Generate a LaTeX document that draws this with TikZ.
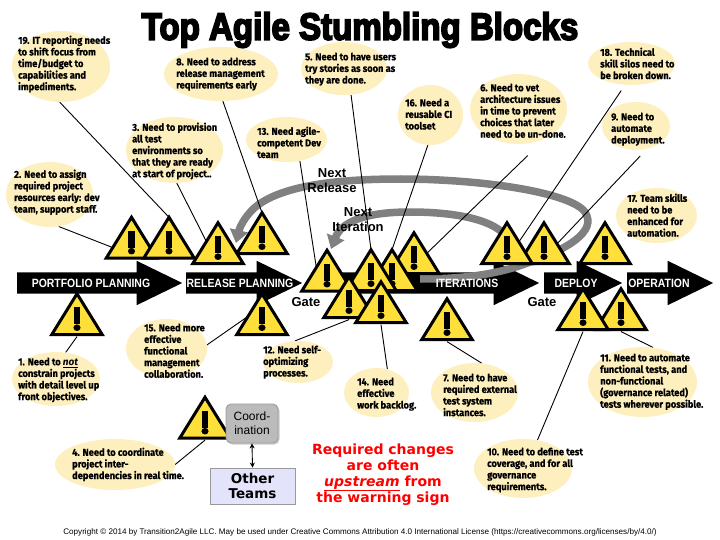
\documentclass[tikz,border=0pt]{standalone}
\usepackage{fontspec}
\setmainfont{Liberation Sans}
\newfontfamily\needfont[BoldFeatures={FakeStretch=.93,FakeBold=.6}]{Fira Sans}
\newfontfamily\titlefont[BoldFeatures={FakeBold=4.5,FakeStretch=.87}]{Liberation Sans}
\newfontfamily\stagefont[BoldFeatures={FakeStretch=.87}]{Liberation Sans}
\newfontfamily\wideboldfont{DejaVu Sans}
\usetikzlibrary{shapes.geometric,shapes.arrows,shadows,arrows.meta}
\pgfdeclarelayer{back}
\pgfdeclarelayer{mid}
\pgfsetlayers{back,mid,main}
\definecolor{bubblecream}{HTML}{FDEFBE}
\definecolor{warnyellow}{HTML}{FFE03A}
\definecolor{loopgrey}{HTML}{808080}
\definecolor{coordgrey}{HTML}{BBBBBB}
\definecolor{teamsblue}{HTML}{E3E3FB}
\tikzset{
  bubble/.style={ellipse, fill=bubblecream, inner sep=0pt},
  needtext/.style={anchor=north west, inner sep=0pt, align=left,
    font=\needfont\bfseries\fontsize{10}{11.6}\selectfont},
  warnsign/.style={regular polygon, regular polygon sides=3, draw=black, fill=warnyellow,
    line width=3pt, minimum size=54.5pt, inner sep=0pt, outer sep=0pt,
    transform shape, xscale=1.07,
    path picture={
      \fill[black] ([xshift=-3pt,yshift=7pt]path picture bounding box.center) rectangle
        ([xshift=3pt,yshift=-10pt]path picture bounding box.center);
      \fill[black] ([yshift=-13.5pt]path picture bounding box.center) circle (3.3pt);
    }},
  stagearrow/.style={single arrow, fill=black, anchor=tail, minimum width=44pt,
    single arrow head extend=11.5pt, single arrow tip angle=52, inner sep=0pt,
    text height=21pt, text depth=0pt, text width=1pt},
  stagetext/.style={inner sep=0pt, text=white, font=\stagefont\bfseries\fontsize{12}{12}\selectfont},
  looparrow/.style={draw=loopgrey, line width=7.5pt, -{Triangle[width=18pt,length=13pt]}},
  link/.style={draw=black, line width=.9pt},
  gatetext/.style={font=\bfseries\fontsize{13}{15}\selectfont, inner sep=0pt, align=center},
}
\begin{document}
\begin{tikzpicture}[x=1pt,y=-1pt]
\useasboundingbox (0,0) rectangle (720,540);
\node[inner sep=0pt, font=\titlefont\bfseries\fontsize{38}{38}\selectfont] (title) at (360,30) {Top Agile Stumbling Blocks};

% bubbles
\node[bubble, minimum width=98pt, minimum height=71pt] (n19) at (61,66.5) {};
\node[bubble, minimum width=114pt, minimum height=54pt] (n8) at (221,74) {};
\node[bubble, minimum width=97pt, minimum height=66pt] (n3) at (174.5,150) {};
\node[bubble, minimum width=87pt, minimum height=65pt] (n2) at (49.5,194.5) {};
\node[bubble, minimum width=81pt, minimum height=45pt] (n13) at (286.5,139.5) {};
\node[bubble, minimum width=86pt, minimum height=53pt] (n5) at (344,68.5) {};
\node[bubble, minimum width=65pt, minimum height=60pt] (n16) at (430.5,115) {};
\node[bubble, minimum width=97pt, minimum height=70pt] (n6) at (518.5,109) {};
\node[bubble, minimum width=87pt, minimum height=43pt] (n18) at (631.5,63.5) {};
\node[bubble, minimum width=68pt, minimum height=48pt] (n9) at (636,126) {};
\node[bubble, minimum width=81pt, minimum height=55pt] (n17) at (656.5,215.5) {};
\node[bubble, minimum width=88pt, minimum height=54pt] (n1) at (56,379) {};
\node[bubble, minimum width=81pt, minimum height=59pt] (n15) at (166.5,348.5) {};
\node[bubble, minimum width=70pt, minimum height=42pt] (n12) at (298,362) {};
\node[bubble, minimum width=65pt, minimum height=49pt] (n14) at (376.5,392.5) {};
\node[bubble, minimum width=87pt, minimum height=59pt] (n7) at (474.5,392.5) {};
\node[bubble, minimum width=109pt, minimum height=70pt] (n11) at (642.5,382) {};
\node[bubble, minimum width=98pt, minimum height=59pt] (n10) at (523,468.5) {};
\node[bubble, minimum width=120pt, minimum height=51pt] (n4) at (115,464.5) {};

% stages
\begin{pgfonlayer}{back}
\node[stagearrow, minimum height=165pt] (portfolio) at (17,283) {};
\node[stagearrow, minimum height=116pt] (release) at (186,283) {};
\node[stagearrow, minimum height=199pt] (iterations) at (340,283) {};
\node[stagearrow, minimum height=78pt] (deploy) at (544,283) {};
\node[stagearrow, minimum height=86pt] (operation) at (627,283) {};
\draw[looparrow] (420,279) .. controls (455,279) and (495,276) .. (530,262)
  .. controls (565,250) and (598,232) .. (585,212)
  .. controls (570,192) and (480,179) .. (400,179)
  .. controls (340,179) and (285,185) .. (258,205)
  .. controls (247,213) and (240,226) .. (236,243);
\draw[looparrow] (505,235) .. controls (490,218) and (450,212) .. (410,212)
  .. controls (375,212) and (343,218) .. (331,249);
\end{pgfonlayer}
\node[stagetext] (portfoliotext) at (91,283) {PORTFOLIO PLANNING};
\node[stagetext] (releasetext) at (240,283) {RELEASE PLANNING};
\node[stagetext] (iterationstext) at (467,283.5) {ITERATIONS};
\node[stagetext] (deploytext) at (576,283.5) {DEPLOY};
\node[stagetext] (operationtext) at (659,283.5) {OPERATION};

% warning signs
\node[warnsign] (w1) at (131.5,244.5) {};
\node[warnsign] (w2) at (169,244.5) {};
\node[warnsign] (w4) at (262,240) {};
\node[warnsign] (w3) at (218,250) {};
\node[warnsign] (w8) at (414,260) {};
\node[warnsign] (w7) at (392,277) {};
\node[warnsign] (w5) at (327,277.5) {};
\node[warnsign] (w6) at (371,277) {};
\node[warnsign] (w9) at (349,304) {};
\node[warnsign] (w10) at (381,309) {};
\node[warnsign] (w11) at (447,326) {};
\node[warnsign] (w13) at (544,250) {};
\node[warnsign] (w12) at (507,250) {};
\node[warnsign] (w14) at (605,250) {};
\node[warnsign] (w16) at (621,316) {};
\node[warnsign] (w15) at (583,316) {};
\node[warnsign] (w17) at (77,321) {};
\node[warnsign] (w18) at (262,321) {};
\node[warnsign] (w19) at (205,424.5) {};

% links
\begin{pgfonlayer}{mid}
\draw[link] (n19.268) -- (w2.corner 1);
\draw[link] (n8.274) -- (w4.corner 1);
\draw[link] (n3.274) -- (w3.142);
\draw[link] (n2.286) -- (w1.190);
\draw[link] (n13.302) -- (w5.135);
\draw[link] (n5.285) -- (w6.corner 1);
\draw[link] (n16.265) -- (w7.corner 1);
\draw[link] ([yshift=-12pt]n6.285) -- (w8.29);
\draw[link] ([yshift=-6pt]n18.244) -- (w12.36);
\draw[link] ([yshift=-6pt]n9.280) -- (w13.27);
\draw[link] (n1.70) -- ([yshift=-2pt]w17.south);
\draw[link] (n15.5) -- (w18.160);
\draw[link] (n12.98) -- ([yshift=-2pt]w9.south);
\draw[link] (n14.65) -- ([yshift=-2pt]w10.south);
\draw[link] (n7.76) -- ([yshift=-2pt]w11.south);
\draw[link] (n10.63) -- ([yshift=-2pt]w15.south);
\draw[link] (n11.73) -- ([yshift=-2pt]w16.south);
\draw[link] (n4.east) -- ([yshift=-2pt]w19.south);
\end{pgfonlayer}

% needs
\node[needtext] (t19) at (18,35.5) {19. IT reporting needs\\to shift focus from\\time/budget to\\capabilities and\\impediments.};
\node[needtext] (t8) at (176,57.5) {8. Need to address\\release management\\requirements early};
\node[needtext] (t3) at (132,122.5) {3. Need to provision\\all test\\environments so\\that they are ready\\at start of project..};
\node[needtext] (t2) at (14,169.5) {2. Need to assign\\required project\\resources early: dev\\team, support staff.};
\node[needtext] (t13) at (257,126.5) {13. Need agile-\\competent Dev\\team};
\node[needtext] (t5) at (305,52.5) {5. Need to have users\\try stories as soon as\\they are done.};
\node[needtext] (t16) at (405,98.5) {16. Need a\\reusable CI\\toolset};
\node[needtext] (t6) at (480,83.5) {6. Need to vet\\architecture issues\\in time to prevent\\choices that later\\need to be un-done.};
\node[needtext] (t18) at (600,47.5) {18. Technical\\skill silos need to\\be broken down.};
\node[needtext] (t9) at (611,112.5) {9. Need to\\automate\\deployment.};
\node[needtext] (t17) at (627,193.5) {17. Team skills\\need to be\\enhanced for\\automation.};
\node[needtext] (t1) at (18,357.5) {1. Need to \underline{\textit{not}}\\constrain projects\\with detail level up\\front objectives.};
\node[needtext] (t15) at (144,323.5) {15. Need more\\effective\\functional\\management\\collaboration.};
\node[needtext] (t12) at (263,345.5) {12. Need self-\\optimizing\\processes.};
\node[needtext] (t14) at (357,377.5) {14. Need\\effective\\work backlog.};
\node[needtext] (t7) at (443,373.5) {7. Need to have\\required external\\test system\\instances.};
\node[needtext] (t11) at (600,353.5) {11. Need to automate\\functional tests, and\\non-functional\\(governance related)\\tests wherever possible.};
\node[needtext] (t10) at (487,447.5) {10. Need to define test\\coverage, and for all\\governance\\requirements.};
\node[needtext] (t4) at (72,447.5) {4. Need to coordinate\\project inter-\\dependencies in real time.};

% loop and gate labels
\node[gatetext] (nextrelease) at (332,181) {Next\\Release};
\node[gatetext] (nextiteration) at (358,219.5) {Next\\Iteration};
\node[gatetext] (gateone) at (306,302) {Gate};
\node[gatetext] (gatetwo) at (542,302) {Gate};

% coordination
\node[draw=gray!80, fill=coordgrey, rounded corners=5pt, line width=.8pt,
  drop shadow={shadow xshift=1.5pt, shadow yshift=-1.5pt, opacity=.4},
  minimum width=52pt, minimum height=39pt, inner sep=0pt, align=center,
  font=\fontsize{12}{14}\selectfont] (coordination) at (252,423.5) {Coord-\\ination};
\node[draw=gray!80, fill=teamsblue, line width=.8pt, minimum width=85pt, minimum height=36pt,
  inner sep=0pt, align=center, font=\wideboldfont\bfseries\fontsize{13.5}{15}\selectfont]
  (teams) at (252.5,486) {Other\\Teams};
\draw[{Stealth[length=5pt,width=5pt]}-{Stealth[length=5pt,width=5pt]}, line width=.9pt] (coordination.south) -- (teams.north);

\node[text=red, inner sep=0pt, align=center, font=\wideboldfont\bfseries\fontsize{14}{16}\selectfont]
  (changes) at (383,474.5) {Required changes\\are often\\\underline{\textit{upstream}} from\\the warning sign};
\node[inner sep=0pt, font=\fontsize{8.1}{10}\selectfont] (copyright) at (360,532) {Copyright © 2014 by Transition2Agile LLC. May be used under Creative Commons Attribution 4.0 International License (https://creativecommons.org/licenses/by/4.0/)};
\end{tikzpicture}
\end{document}
